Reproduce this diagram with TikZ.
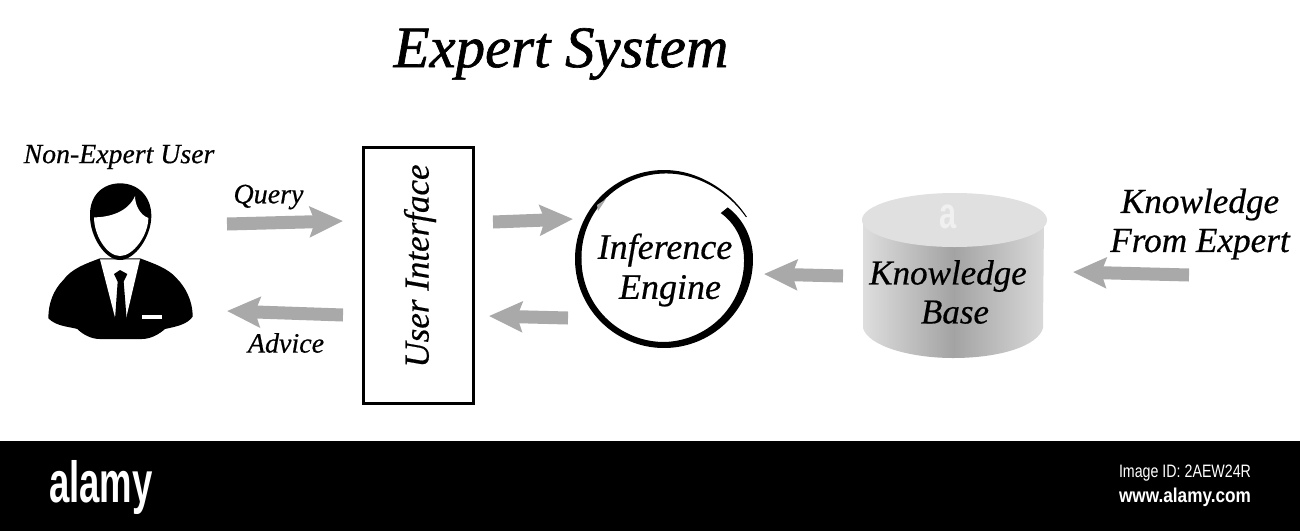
\documentclass[tikz,border=0pt]{standalone}
\usepackage{fontspec}
\setmainfont{Liberation Serif}[ItalicFeatures={FakeBold=0.5}]
\newfontfamily\titlefont{Liberation Serif Italic}[FakeBold=1.1]
\newfontfamily\logofont{Liberation Sans}
\usetikzlibrary{arrows.meta}
\definecolor{arrowgray}{HTML}{A9A9A9}
\tikzset{
  bigarrow/.style={draw=arrowgray,line width=6.5pt,-{Stealth[length=16.5pt,width=15pt,inset=2.5pt]}},
  lbl/.style={inner sep=0pt,align=center,text=black,font=\itshape},
  px/.style={x=0.5pt,y=-0.5pt}
}
\begin{document}
\begin{tikzpicture}[px,
  declare function={
    brw(\t)=(\t<90)?(1+2.5*(\t-27)/63):((\t<180)?(3.5+3*(\t-90)/90):((\t<270)?(6.5-0.5*(\t-180)/90):((\t<360)?(6+3*(\t-270)/90):9)));
    bro(\t)=(\t<70)?(89+4*((70-\t)/43)^2):((\t<360)?89:(89-7*((\t-360)/39)^2));
  }]
\useasboundingbox (0,0) rectangle (1300,531);
\fill[white] (0,0) rectangle (1300,531);
\fill[black] (0,441) rectangle (1300,531);

% Title
\node[inner sep=0pt,text=black,font=\titlefont\fontsize{29.4pt}{32pt}\selectfont] (title) at (561,54) {Expert System};

% Person
\begin{scope}[shift={(0,130)},x=0.16667pt,y=-0.16667pt]
  \fill[black] (300,385) .. controls (260,400) and (215,415) .. (190,450)
     .. controls (160,480) and (145,520) .. (145,565)
     .. controls (170,590) and (210,590) .. (232,597)
     .. controls (250,615) and (275,627) .. (300,627)
     -- (425,627) .. controls (455,627) and (480,610) .. (495,597)
     .. controls (525,590) and (560,585) .. (578,560)
     .. controls (578,510) and (555,470) .. (530,445)
     .. controls (505,415) and (460,400) .. (420,385) -- cycle;
  \fill[white] (300,388) -- (346,566) -- (378,566) -- (420,388) -- cycle;
  \fill[black] (342,432) -- (360,420) -- (382,432) -- (371,455) -- (380,568) -- (345,568) -- (353,455) -- cycle;
  \fill[white] (425,555) rectangle (487,566);
  \fill[black] (270,258) .. controls (268,195) and (310,160) .. (360,160)
     .. controls (415,160) and (454,200) .. (454,258)
     .. controls (454,320) and (405,390) .. (360,390)
     .. controls (315,390) and (270,320) .. (270,258) -- cycle;
  \fill[white] (282,262) .. controls (330,262) and (385,245) .. (405,198)
     .. controls (405,225) and (420,255) .. (445,264)
     .. controls (445,315) and (400,378) .. (360,378)
     .. controls (320,378) and (282,315) .. (282,262) -- cycle;
\end{scope}
\node[lbl,font=\itshape\fontsize{13.9pt}{16pt}\selectfont] (user) at (119,157) {Non-Expert User};
\node[lbl,font=\itshape\fontsize{14pt}{16pt}\selectfont] (query) at (268.5,197) {Query};
\node[lbl,font=\itshape\fontsize{14pt}{16pt}\selectfont] (advice) at (286,343) {Advice};

% User interface
\node[draw=black,line width=1.5pt,minimum width=55pt,minimum height=128pt,inner sep=0pt] (ui) at (418.5,275.5) {};
\node[lbl,rotate=90,font=\itshape\fontsize{17.5pt}{20pt}\selectfont] (uilabel) at (420,266) {User Interface};

% Inference engine brush ring
\fill[black] plot[domain=27:399,samples=120,smooth] ({664+bro(\x)*cos(\x)},{259-bro(\x)*sin(\x)})
   -- plot[domain=399:27,samples=120,smooth] ({664+(bro(\x)-brw(\x))*cos(\x)},{259-(bro(\x)-brw(\x))*sin(\x)}) -- cycle;
\fill[arrowgray] (597,205) -- (606,199) -- (598,211) -- cycle;
\node[lbl,font=\itshape\fontsize{18pt}{20pt}\selectfont] (engine) at (665,270) {Inference\\\hspace*{5pt}Engine};

% Knowledge base cylinder
\shade[left color=black!13,right color=black!15,middle color=black!36]
  (863,220) -- (863,328) .. controls (868,346) and (910,358) .. (953,358)
  .. controls (1000,358) and (1038,346) .. (1043,328) -- (1044,220) -- cycle;
\fill[black!12] (954.5,220) ellipse [x radius=92.5,y radius=27];
\node[inner sep=0pt,text=black!6] (wm) at (948,217) {\scalebox{0.7}[1]{\logofont\bfseries\fontsize{22pt}{24pt}\selectfont a}};
\node[lbl,font=\itshape\fontsize{17.5pt}{19.5pt}\selectfont] (kb) at (948,292) {Knowledge\\\hspace*{7pt}Base};
\node[lbl,font=\itshape\fontsize{17.6pt}{19.5pt}\selectfont] (expert) at (1200,224) {Knowledge\\From Expert};

% Arrows
\coordinate (a1s) at (227,224); \coordinate (a1e) at (343,221);
\coordinate (a2s) at (343,315); \coordinate (a2e) at (227,311);
\coordinate (a3s) at (493,222); \coordinate (a3e) at (573,219);
\coordinate (a4s) at (568,318); \coordinate (a4e) at (489,316);
\coordinate (a5s) at (843,276); \coordinate (a5e) at (764,274);
\coordinate (a6s) at (1189,275); \coordinate (a6e) at (1073,272);
\draw[bigarrow] (a1s) -- (a1e);
\draw[bigarrow] (a2s) -- (a2e);
\draw[bigarrow] (a3s) -- (a3e);
\draw[bigarrow] (a4s) -- (a4e);
\draw[bigarrow] (a5s) -- (a5e);
\draw[bigarrow] (a6s) -- (a6e);

% Footer
\node[inner sep=0pt,text=white] (logo) at (101,487) {\scalebox{0.63}[1]{\logofont\bfseries\fontsize{29pt}{30pt}\selectfont alamy}};
\node[inner sep=0pt,text=white] (imgid) at (1185,473) {\scalebox{0.79}[1]{\logofont\fontsize{9pt}{11pt}\selectfont Image ID: 2AEW24R}};
\node[inner sep=0pt,text=white] (site) at (1185,497) {\scalebox{0.86}[1]{\logofont\bfseries\fontsize{10pt}{12pt}\selectfont www.alamy.com}};
\end{tikzpicture}
\end{document}
